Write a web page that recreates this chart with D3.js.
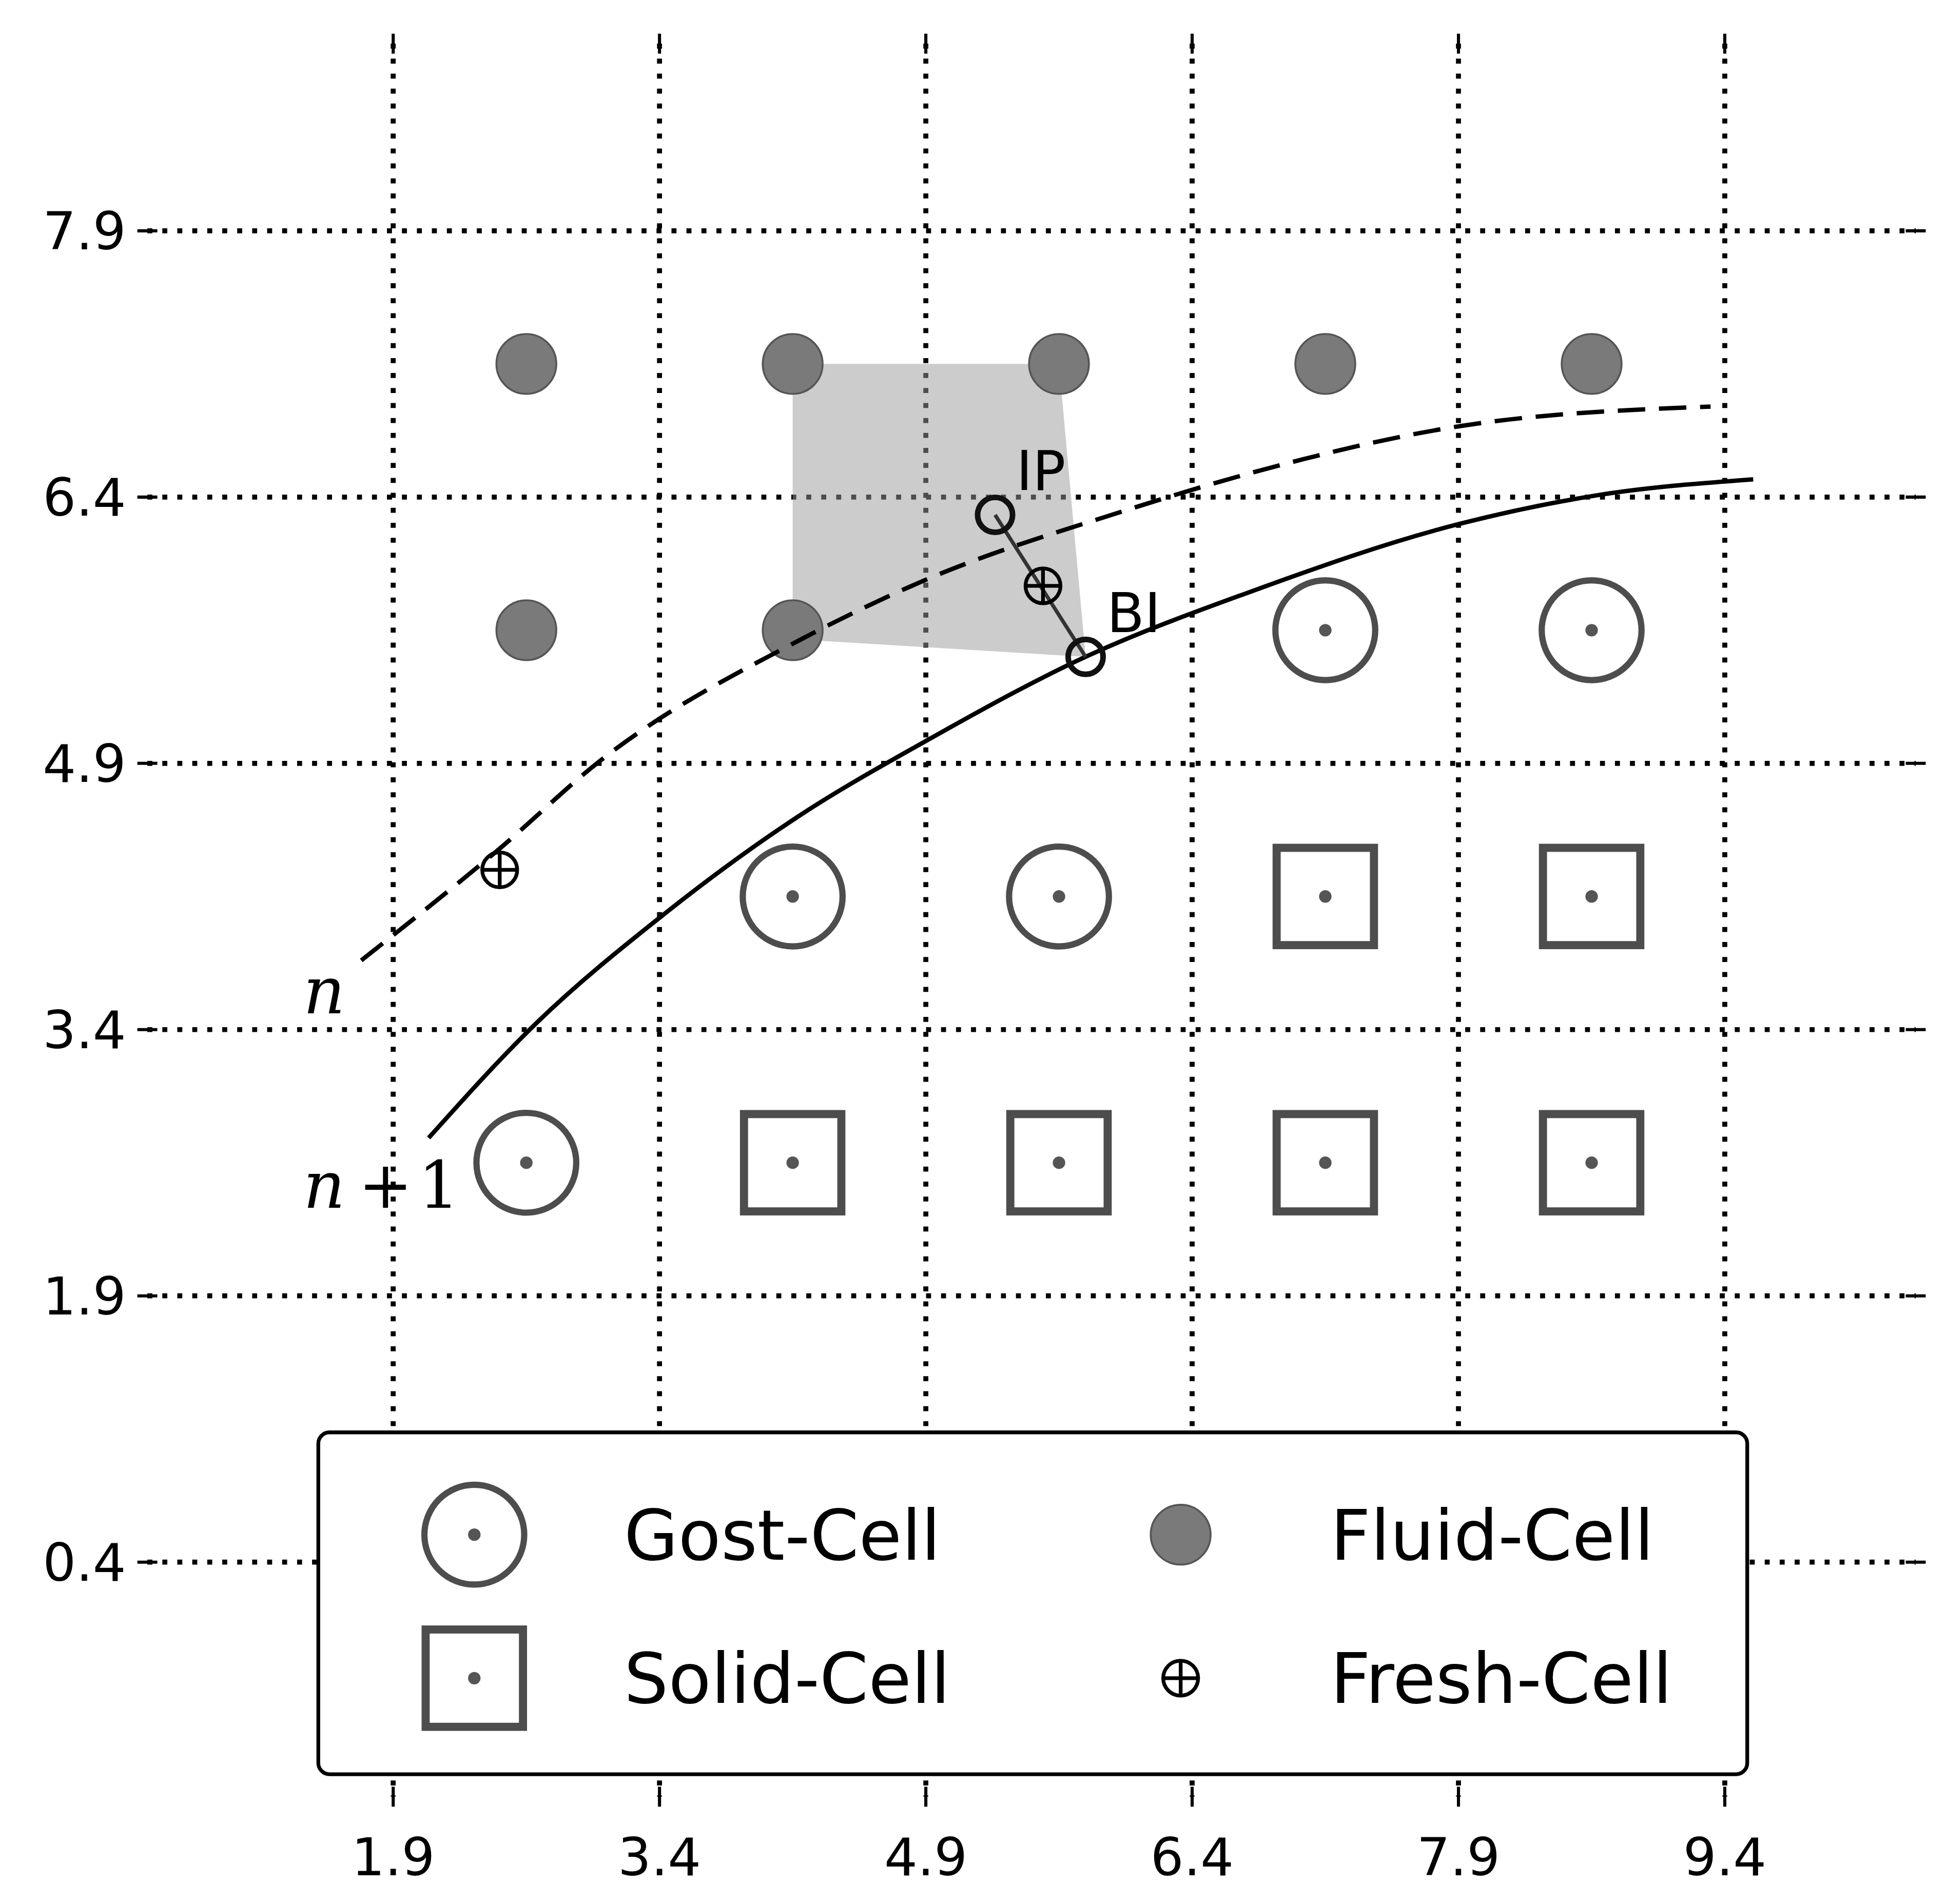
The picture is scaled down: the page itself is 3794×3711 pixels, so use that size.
<!DOCTYPE html>
<html><head><meta charset="utf-8">
<script src="https://cdn.jsdelivr.net/npm/d3@7"></script>
<style>body{margin:0;background:#fff}</style></head>
<body><svg id="c" width="3794" height="3711" viewBox="0 0 1560 1526"></svg>
<script>
const xTicks=[1.9,3.4,4.9,6.4,7.9,9.4];
const yTicks=[0.4,1.9,3.4,4.9,6.4,7.9];
const fluid=[[2.65,7.15],[4.15,7.15],[5.65,7.15],[7.15,7.15],[8.65,7.15],[2.65,5.65],[4.15,5.65]];
const ghost=[[7.15,5.65],[8.65,5.65],[4.15,4.15],[5.65,4.15],[2.65,2.65]];
const solid=[[7.15,4.15],[8.65,4.15],[4.15,2.65],[5.65,2.65],[7.15,2.65],[8.65,2.65]];
const fresh=[[2.5,4.3],[5.56,5.9]];
const ipbi=[["IP",5.29,6.3],["BI",5.8,5.5]];
const stencil=[[4.15,7.15],[5.65,7.15],[5.8,5.5],[4.15,5.6]];
const curveN=[[1.72,3.79],[2.5,4.42],[3.06,4.91],[4.2,5.6],[4.89,5.93],[6.01,6.32],[6.71,6.53],[7.91,6.8],[9.32,6.91]];
const curveN1=[[2.1,2.79],[2.71,3.44],[3.4,4.03],[4.18,4.6],[4.89,5.02],[5.8,5.5],[6.71,5.86],[7.91,6.25],[8.68,6.41],[9.56,6.5]];
const legendItems=[["Gost-Cell","ghost"],["Fluid-Cell","fluid"],["Solid-Cell","solid"],["Fresh-Cell","fresh"]];

const svg=d3.select("#c");
const x=d3.scaleLinear().domain([1.9,9.4]).range([315,1382]);
const y=d3.scaleLinear().domain([0.4,7.9]).range([1252,185]);
const X0=118,X1=1535,Y0=35,Y1=1440;
const F="DejaVu Sans";
const g=svg.append("g");
xTicks.forEach(t=>g.append("line").attr("x1",x(t)).attr("x2",x(t)).attr("y1",Y0).attr("y2",Y1).attr("stroke","#000").attr("stroke-width",4).attr("stroke-dasharray","4 8"));
yTicks.forEach(t=>g.append("line").attr("y1",y(t)).attr("y2",y(t)).attr("x1",X0).attr("x2",X1).attr("stroke","#000").attr("stroke-width",4).attr("stroke-dasharray","4 8"));
xTicks.forEach(t=>{[Y0,Y1].forEach(yy=>g.append("line").attr("x1",x(t)).attr("x2",x(t)).attr("y1",yy-8).attr("y2",yy+8).attr("stroke","#000").attr("stroke-width",2.5));
 g.append("text").attr("x",x(t)).attr("y",1503).attr("text-anchor","middle").attr("font-family",F).attr("font-size",42).text(t);});
yTicks.forEach(t=>{[X0,X1].forEach(xx=>g.append("line").attr("y1",y(t)).attr("y2",y(t)).attr("x1",xx-8).attr("x2",xx+8).attr("stroke","#000").attr("stroke-width",2.5));
 g.append("text").attr("x",101).attr("y",y(t)+15).attr("text-anchor","end").attr("font-family",F).attr("font-size",42).text(t);});
g.append("polygon").attr("points",stencil.map(d=>[x(d[0]),y(d[1])].join(",")).join(" ")).attr("fill","#999").attr("opacity",0.5);
function ghostM(sel,cx,cy){sel.append("circle").attr("cx",cx).attr("cy",cy).attr("r",40).attr("fill","none").attr("stroke","#4d4d4d").attr("stroke-width",5);
 sel.append("circle").attr("cx",cx).attr("cy",cy).attr("r",5).attr("fill","#555");}
function solidM(sel,cx,cy){sel.append("rect").attr("x",cx-39).attr("y",cy-39).attr("width",78).attr("height",78).attr("fill","none").attr("stroke","#4d4d4d").attr("stroke-width",6.5);
 sel.append("circle").attr("cx",cx).attr("cy",cy).attr("r",5).attr("fill","#555");}
function fluidM(sel,cx,cy){sel.append("circle").attr("cx",cx).attr("cy",cy).attr("r",24).attr("fill","#7a7a7a").attr("stroke","#555").attr("stroke-width",1.5);}
function freshM(sel,cx,cy){sel.append("circle").attr("cx",cx).attr("cy",cy).attr("r",14).attr("fill","none").attr("stroke","#000").attr("stroke-width",3);
 sel.append("path").attr("d",`M${cx-14},${cy}H${cx+14}M${cx},${cy-14}V${cy+14}`).attr("stroke","#000").attr("stroke-width",3);}
fluid.forEach(d=>fluidM(g,x(d[0]),y(d[1])));
ghost.forEach(d=>ghostM(g,x(d[0]),y(d[1])));
solid.forEach(d=>solidM(g,x(d[0]),y(d[1])));
const line=d3.line().x(d=>x(d[0])).y(d=>y(d[1])).curve(d3.curveMonotoneX);
g.append("path").attr("d",line(curveN)).attr("fill","none").attr("stroke","#000").attr("stroke-width",3.5).attr("stroke-dasharray","22 11");
g.append("path").attr("d",line(curveN1)).attr("fill","none").attr("stroke","#000").attr("stroke-width",3.5);
g.append("line").attr("x1",x(ipbi[0][1])).attr("y1",y(ipbi[0][2])).attr("x2",x(ipbi[1][1])).attr("y2",y(ipbi[1][2])).attr("stroke","#333").attr("stroke-width",3);
fresh.forEach(d=>freshM(g,x(d[0]),y(d[1])));
ipbi.forEach(d=>{g.append("circle").attr("cx",x(d[1])).attr("cy",y(d[2])).attr("r",14).attr("fill","none").attr("stroke","#111").attr("stroke-width",4.5);
 g.append("text").attr("x",x(d[1])+17).attr("y",y(d[2])-20).attr("font-family",F).attr("font-size",44).text(d[0]);});
g.append("text").attr("x",243).attr("y",812).attr("font-family","DejaVu Serif").attr("font-style","italic").attr("font-size",52).text("n");
const t1=g.append("text").attr("x",243).attr("y",968).attr("font-family","DejaVu Serif").attr("font-size",52);
t1.append("tspan").attr("font-style","italic").text("n");t1.append("tspan").text(" + 1").attr("letter-spacing",-6);
g.append("rect").attr("x",255).attr("y",1148).attr("width",1145).attr("height",274).attr("rx",9).attr("fill","#fff").attr("stroke","#000").attr("stroke-width",3);
const pos=[[380,1230],[946,1230],[380,1345],[946,1345]];
const fns={ghost:ghostM,fluid:fluidM,solid:solidM,fresh:freshM};
legendItems.forEach((d,i)=>{const [cx,cy]=pos[i];fns[d[1]](g,cx,cy);
 g.append("text").attr("x",cx+120).attr("y",cy+20).attr("font-family",F).attr("font-size",56).text(d[0]);});
</script></body></html>
